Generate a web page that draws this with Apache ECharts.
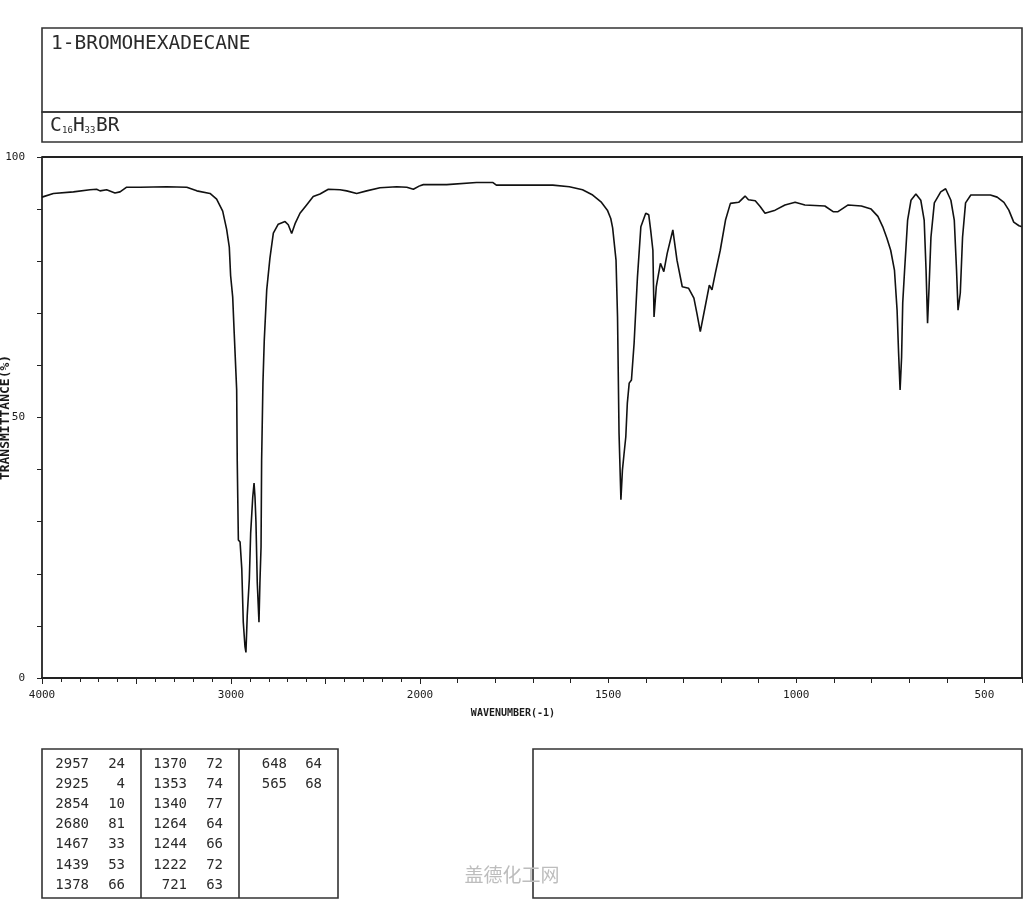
<!DOCTYPE html>
<html>
<head>
<meta charset="utf-8">
<script src="https://cdn.jsdelivr.net/npm/echarts@6/dist/echarts.min.js"></script>
<style>
html, body { margin: 0; padding: 0; background: #fff; }
#chart { width: 1024px; height: 900px; }
</style>
</head>
<body>
<div id="chart"></div>
<script>
// 4000-2000 cm-1 part (compressed scale)
const waveHi = [4000, 3940, 3834, 3746, 3711, 3693, 3658, 3614, 3587, 3552, 3481, 3340, 3234, 3181, 3111,
  3076, 3044, 3023, 3009, 3002, 2991, 2983, 2970, 2967, 2961, 2952, 2943, 2935, 2926, 2921, 2914, 2903,
  2896, 2885, 2878, 2873, 2868, 2861, 2852, 2847, 2841, 2838, 2831, 2824, 2811, 2794, 2776, 2750, 2741,
  2714, 2697, 2679, 2661, 2635, 2600, 2565, 2529, 2485, 2423, 2388, 2335, 2282, 2212, 2123, 2070, 2035, 2000];
const transHi = [92.3, 93.0, 93.3, 93.7, 93.8, 93.5, 93.7, 93.1, 93.3, 94.2, 94.2, 94.3, 94.2, 93.5, 93.0,
  91.9, 89.6, 86.1, 82.7, 77.2, 73.1, 66.2, 55.3, 41.7, 26.5, 26.1, 21.0, 10.7, 6.0, 4.9, 12.1, 19.0,
  27.8, 34.7, 37.4, 34.7, 30.0, 18.3, 10.7, 18.3, 25.2, 41.7, 56.6, 64.8, 74.5, 80.6, 85.4, 87.1, 86.8,
  87.6, 87.0, 85.3, 87.2, 89.2, 90.8, 92.4, 92.9, 93.8, 93.7, 93.5, 93.0, 93.5, 94.1, 94.3, 94.2, 93.8, 94.5];

// 2000-400 cm-1 part (expanded scale)
const waveLo = [2000, 1991, 1929, 1850, 1806, 1797, 1647, 1603, 1568, 1541, 1519, 1502, 1493, 1488, 1479,
  1475, 1471, 1466, 1462, 1458, 1453, 1449, 1444, 1438, 1431, 1422, 1413, 1400, 1392, 1387, 1381, 1378,
  1372, 1361, 1352, 1343, 1328, 1317, 1303, 1286, 1272, 1264, 1255, 1242, 1231, 1224, 1215, 1202, 1188,
  1175, 1153, 1136, 1127, 1109, 1096, 1083, 1056, 1030, 1003, 977, 924, 902, 889, 862, 827, 801, 783, 770,
  759, 749, 739, 732, 728, 724, 720, 717, 712, 704, 695, 682, 669, 660, 655, 651, 647, 642, 633, 616, 603,
  589, 580, 574, 570, 564, 558, 550, 536, 510, 484, 466, 448, 435, 422, 408, 400];
const transLo = [94.5, 94.7, 94.7, 95.1, 95.1, 94.6, 94.6, 94.3, 93.7, 92.7, 91.4, 89.8, 88.2, 86.4, 80.2,
  69.3, 47.0, 34.2, 39.9, 42.8, 46.3, 52.7, 56.6, 57.2, 64.2, 77.0, 86.6, 89.2, 88.9, 86.0, 82.1, 69.3,
  75.1, 79.6, 78.0, 81.5, 86.0, 80.2, 75.1, 74.8, 72.9, 70.0, 66.5, 71.3, 75.4, 74.5, 77.7, 82.1, 87.9,
  91.1, 91.3, 92.5, 91.8, 91.6, 90.5, 89.2, 89.8, 90.8, 91.3, 90.8, 90.6, 89.5, 89.5, 90.8, 90.6, 90.0, 88.6, 86.6,
  84.4, 82.1, 78.3, 70.6, 62.4, 55.3, 61.6, 72.0, 78.3, 87.9, 91.7, 92.9, 91.7, 87.9, 78.3, 68.1, 75.0, 84.6, 91.2, 93.3, 93.9,
  91.7, 87.9, 78.3, 70.6, 73.9, 84.6, 91.2, 92.7, 92.7, 92.7, 92.3, 91.3, 89.8, 87.5, 86.8, 86.6];

// peak table
const peakWave = [2957, 2925, 2854, 2680, 1467, 1439, 1378, 1370, 1353, 1340, 1264, 1244, 1222, 721, 648, 565];
const peakTrans = [24, 4, 10, 81, 33, 53, 66, 72, 74, 77, 64, 66, 72, 63, 64, 68];

// tick labels
const xLabelsHi = [4000, 3000, 2000];
const xLabelsLo = [1500, 1000, 500];
const yLabels = [0, 50, 100];

const mono = '"DejaVu Sans Mono", monospace';
const ink = '#1a1a1a';

const chart = echarts.init(document.getElementById('chart'));

function txt(x, y, str, size, align, extra) {
    return {
        type: 'text', x: x, y: y, z: 10,
        style: Object.assign({
            text: String(str), fontSize: size, fontFamily: mono, fill: '#2a2a2a',
            align: align || 'left', verticalAlign: 'middle'
        }, extra || {})
    };
}
function box(x, y, w, h) {
    return { type: 'rect', z: 5, shape: { x: x, y: y, width: w, height: h },
        style: { fill: null, stroke: '#333', lineWidth: 1.6 } };
}
function vline(x, y1, y2) {
    return { type: 'line', z: 5, shape: { x1: x, y1: y1, x2: x, y2: y2 },
        style: { stroke: '#333', lineWidth: 1.6 } };
}

const graphics = [
    // title + formula boxes
    box(42, 28, 980, 84),
    box(42, 112, 980, 30),
    txt(51, 44, '1-BROMOHEXADECANE', 19.5),
    txt(50, 126, 'C', 19.5),
    txt(62, 131, '16', 9),
    txt(73, 126, 'H', 19.5),
    txt(84.5, 131, '33', 9),
    txt(96, 126, 'BR', 19.5),
    // plot frame top + right
    { type: 'polyline', z: 5, shape: { points: [[42, 157], [1022, 157], [1022, 678]] },
      style: { fill: null, stroke: '#222', lineWidth: 1.8 } },
    // x axis name
    txt(513, 713, 'WAVENUMBER(-1)', 10, 'center', { fontWeight: 'bold', fill: ink }),
    // peak table boxes
    box(42, 749, 296, 149),
    vline(141, 749, 898),
    vline(239, 749, 898),
    box(533, 749, 489, 149),
    // watermark
    txt(512, 875, '盖德化工网', 19, 'center', { fontFamily: '"Noto Sans CJK SC", sans-serif', fill: '#bdbdbd' })
];

const waveRight = [89, 187, 287];
const transRight = [125, 223, 322];
peakWave.forEach(function (w, i) {
    const col = Math.floor(i / 7);
    const row = i % 7;
    const y = 764 + row * 20.2;
    graphics.push(txt(waveRight[col], y, w, 14, 'right'));
    graphics.push(txt(transRight[col], y, peakTrans[i], 14, 'right'));
});

const tickLabel = { fontFamily: mono, fontSize: 11, color: ink };

chart.setOption({
    animation: false,
    backgroundColor: '#fff',
    grid: [
        { left: 42, top: 157, width: 378, height: 521, containLabel: false, outerBoundsMode: 'none' },
        { left: 420, top: 157, width: 602, height: 521, containLabel: false, outerBoundsMode: 'none' }
    ],
    xAxis: [
        {
            type: 'value', gridIndex: 0, min: 2000, max: 4000, inverse: true, interval: 500,
            axisLine: { lineStyle: { color: '#222', width: 1.8 } },
            axisTick: { length: 6, lineStyle: { color: '#222' } },
            minorTick: { show: true, splitNumber: 5, length: 4, lineStyle: { color: '#222' } },
            splitLine: { show: false },
            axisLabel: Object.assign({ margin: 12,
                formatter: function (v) { return xLabelsHi.indexOf(v) >= 0 ? String(v) : ''; } }, tickLabel)
        },
        {
            type: 'value', gridIndex: 1, min: 400, max: 2000, inverse: true, interval: 100,
            axisLine: { lineStyle: { color: '#222', width: 1.8 } },
            axisTick: { length: 5, lineStyle: { color: '#222' } },
            splitLine: { show: false },
            axisLabel: Object.assign({ margin: 12,
                formatter: function (v) { return xLabelsLo.indexOf(v) >= 0 ? String(v) : ''; } }, tickLabel)
        }
    ],
    yAxis: [
        {
            type: 'value', gridIndex: 0, min: 0, max: 100, interval: 10,
            name: 'TRANSMITTANCE(%)', nameLocation: 'middle', nameGap: 30, nameMoveOverlap: false,
            nameTextStyle: { fontFamily: mono, fontSize: 13, fontWeight: 'bold', color: ink },
            axisLine: { show: true, lineStyle: { color: '#222', width: 1.8 } },
            axisTick: { show: true, length: 5, lineStyle: { color: '#222' } },
            splitLine: { show: false },
            axisLabel: Object.assign({ margin: 17,
                formatter: function (v) { return yLabels.indexOf(v) >= 0 ? String(v) : ''; } }, tickLabel)
        },
        { type: 'value', gridIndex: 1, min: 0, max: 100, show: false }
    ],
    series: [
        {
            type: 'line', xAxisIndex: 0, yAxisIndex: 0, showSymbol: false, silent: true,
            lineStyle: { color: '#111', width: 1.6 },
            data: waveHi.map(function (w, i) { return [w, transHi[i]]; })
        },
        {
            type: 'line', xAxisIndex: 1, yAxisIndex: 1, showSymbol: false, silent: true,
            lineStyle: { color: '#111', width: 1.6 },
            data: waveLo.map(function (w, i) { return [w, transLo[i]]; })
        }
    ],
    graphic: graphics
});
</script>
</body>
</html>
